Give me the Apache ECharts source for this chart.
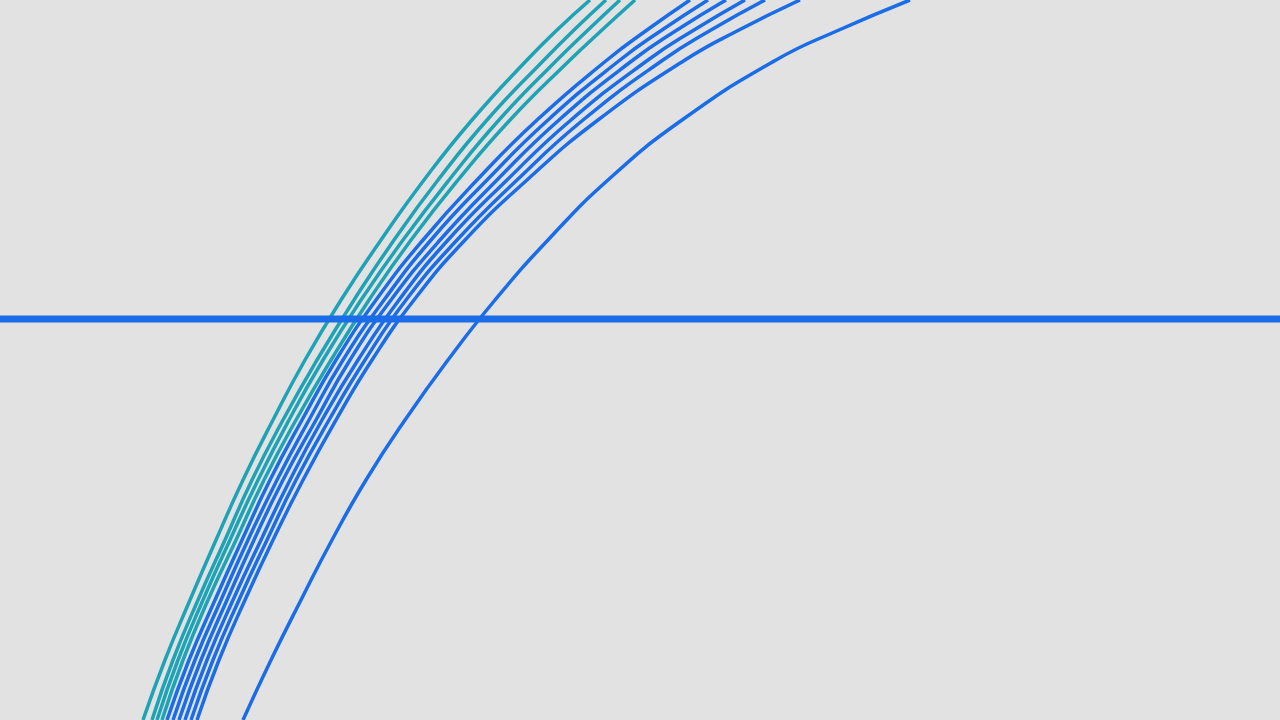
<!DOCTYPE html>
<html>
<head>
<meta charset="utf-8">
<script src="https://cdn.jsdelivr.net/npm/echarts@6/dist/echarts.min.js"></script>
<style>
  html, body { margin: 0; padding: 0; background: #e2e2e2; }
  #chart { width: 1280px; height: 720px; }
</style>
</head>
<body>
<div id="chart"></div>
<script>
// y 高度 (自下而上), 顶部加密一级
var yLevels = [0, 60, 120, 180, 240, 300, 360, 420, 480, 540, 600, 660, 690, 720];

// 青色曲线: 每条曲线在 yLevels 处的 x 值
var teal1 = [143, 165, 190, 216, 243, 273, 305, 341, 381, 424, 472, 527, 557, 590];
var teal2 = [152, 173, 198, 225, 252, 283, 317, 354, 394, 438, 487, 544, 574, 606];
var teal3 = [157, 178, 203, 230, 258, 289, 323, 361, 403, 449, 499, 557, 588, 620];
var teal4 = [162, 183, 208, 236, 264, 296, 331, 369, 411, 458, 510, 570, 602, 635];

// 蓝色曲线
var blue1 = [167, 189, 215, 242, 270, 302, 336, 376, 423, 477, 537, 607, 647, 690];
var blue2 = [173, 195, 221, 248, 277, 309, 343, 384, 431, 487, 548, 620, 662, 708];
var blue3 = [179, 201, 227, 254, 283, 316, 350, 391, 440, 497, 559, 633, 677, 726];
var blue4 = [185, 207, 233, 261, 290, 322, 358, 399, 448, 507, 571, 648, 694, 745];
var blue5 = [191, 213, 239, 267, 296, 329, 365, 406, 457, 517, 583, 663, 711, 765];
var blue6 = [197, 219, 245, 273, 303, 336, 372, 414, 465, 527, 598, 685, 739, 800];
var blueFar = [243, 271, 301, 332, 366, 405, 448, 495, 548, 608, 682, 776, 839, 910];

// 水平线
var hLineX = [0, 1280];
var hLineY = 401;

var TEAL = '#1ea3b6',
    BLUE = '#1a6de6';

function curveSeries(xs, color) {
    return {
        type: 'line',
        smooth: true,
        symbol: 'none',
        silent: true,
        data: xs.map(function(x, i) { return [x, yLevels[i]]; }),
        lineStyle: { color: color, width: 3.5 }
    };
}

var series = [];
[teal1, teal2, teal3, teal4].forEach(function(c) {
    series.push(curveSeries(c, TEAL));
});
[blue1, blue2, blue3, blue4, blue5, blue6, blueFar].forEach(function(c) {
    series.push(curveSeries(c, BLUE));
});
series.push({
    type: 'line',
    symbol: 'none',
    silent: true,
    data: hLineX.map(function(x) { return [x, hLineY]; }),
    lineStyle: { color: BLUE, width: 7 }
});

var chart = echarts.init(document.getElementById('chart'));
chart.setOption({
    backgroundColor: '#e2e2e2',
    animation: false,
    grid: { left: 0, right: 0, top: 0, bottom: 0 },
    xAxis: { type: 'value', min: 0, max: 1280, show: false },
    yAxis: { type: 'value', min: 0, max: 720, show: false },
    series: series
});
</script>
</body>
</html>
